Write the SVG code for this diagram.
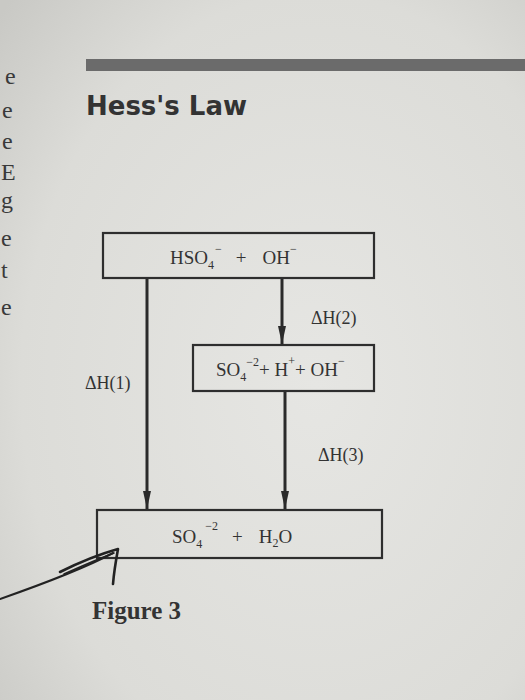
<svg xmlns="http://www.w3.org/2000/svg" width="525" height="700" viewBox="0 0 525 700">
  <defs>
    <radialGradient id="bg" cx="0.6" cy="0.55" r="0.8">
      <stop offset="0" stop-color="#e6e6e3"/>
      <stop offset="0.7" stop-color="#dcdcd8"/>
      <stop offset="1" stop-color="#c9c9c5"/>
    </radialGradient>
    <marker id="ah" viewBox="0 0 18 8" refX="18" refY="4" markerWidth="18" markerHeight="8" markerUnits="userSpaceOnUse" orient="auto">
      <path d="M0,0 L18,4 L0,8 Z" fill="#2a2a2a"/>
    </marker>
    <style>
      .box { fill: none; stroke: #2e2e2e; stroke-width: 2.2; }
      .chem { font-family: "Liberation Serif", "Times New Roman", serif; font-size: 19px; fill: #333; }
      .sup { font-size: 12px; }
      .lbl { font-family: "Liberation Serif", "Times New Roman", serif; font-size: 18px; fill: #333; }
      .arr { stroke: #2a2a2a; stroke-width: 3; fill: none; }
      .margin { font-family: "Liberation Serif", "Times New Roman", serif; font-size: 24px; fill: #3a3a3a; }
      .ink { fill: none; stroke: #222; stroke-linecap: round; stroke-linejoin: round; }
    </style>
  </defs>
  <rect x="0" y="0" width="525" height="700" fill="url(#bg)"/>

  <!-- margin letters from facing text -->
  <g id="margin">
    <text class="margin" x="5" y="84">e</text>
    <text class="margin" x="2" y="118">e</text>
    <text class="margin" x="2" y="149">e</text>
    <text class="margin" x="1" y="180">E</text>
    <text class="margin" x="1" y="208">g</text>
    <text class="margin" x="1" y="246">e</text>
    <text class="margin" x="1" y="278">t</text>
    <text class="margin" x="1" y="315">e</text>
  </g>

  <g id="header">
    <rect x="86" y="59" width="439" height="12" fill="#6b6b6b"/>
    <text x="86" y="115" font-family="'DejaVu Sans', 'Open Sans', sans-serif" font-weight="bold" font-size="26" fill="#333">Hess's Law</text>
  </g>

  <g id="connectors">
    <line class="arr" x1="147" y1="278" x2="147" y2="509" marker-end="url(#ah)"/>
    <line class="arr" x1="282" y1="278" x2="282" y2="344" marker-end="url(#ah)"/>
    <line class="arr" x1="285" y1="391" x2="285" y2="509" marker-end="url(#ah)"/>
    <text class="lbl" x="311" y="324">ΔH(2)</text>
    <text class="lbl" x="85" y="389">ΔH(1)</text>
    <text class="lbl" x="318" y="461">ΔH(3)</text>
  </g>

  <g id="node-top">
    <rect class="box" x="103" y="233" width="271" height="45"/>
    <text class="chem" x="170" y="264">HSO<tspan class="sup" dy="5">4</tspan><tspan class="sup" dx="1" dy="-16">−</tspan><tspan dx="14" dy="11">+</tspan><tspan dx="16">OH</tspan><tspan class="sup" dy="-11">−</tspan></text>
  </g>

  <g id="node-middle">
    <rect class="box" x="193" y="345" width="181" height="46"/>
    <text class="chem" x="216" y="376">SO<tspan class="sup" dy="5">4</tspan><tspan class="sup" dy="-15">−2</tspan><tspan dy="10">+ H</tspan><tspan class="sup" dy="-11">+</tspan><tspan dy="11">+ OH</tspan><tspan class="sup" dy="-11">−</tspan></text>
  </g>

  <g id="node-bottom">
    <rect class="box" x="97" y="510" width="285" height="48"/>
    <text class="chem" x="172" y="543">SO<tspan class="sup" dy="5">4</tspan><tspan class="sup" dx="3" dy="-18">−2</tspan><tspan dx="14" dy="13">+</tspan><tspan dx="16">H</tspan><tspan class="sup" dy="4">2</tspan><tspan dy="-4">O</tspan></text>
  </g>

  <g id="handwriting">
    <path class="ink" stroke-width="2" d="M0,599 C40,585 85,568 113,553"/>
    <path class="ink" stroke-width="2.6" d="M60,572 C80,562 100,554 118,549 C116,560 114,572 113,584"/>
    <path class="ink" stroke-width="1.6" d="M64,574 C82,566 100,558 114,553"/>
  </g>

  <g id="caption">
    <text x="92" y="619" font-family="'Liberation Serif', 'Times New Roman', serif" font-weight="bold" font-size="25" fill="#333">Figure 3</text>
  </g>
</svg>
